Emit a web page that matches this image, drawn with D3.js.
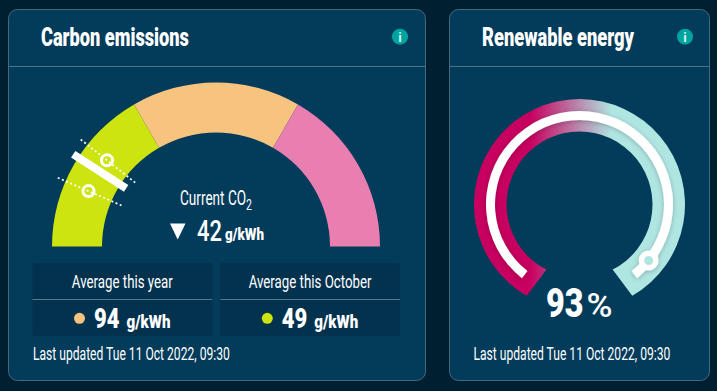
<!DOCTYPE html>
<html>
<head>
<meta charset="utf-8">
<script src="https://cdn.jsdelivr.net/npm/d3@7"></script>
<style>
  html, body { margin: 0; padding: 0; background: #001f30; overflow: hidden; }
  svg { display: block; }
  text { font-family: "Roboto", sans-serif; fill: #fff; }
</style>
</head>
<body>
<div id="chart"></div>
<script>
// Carbon gauge values
const bandStops = [0, 76.7, 153.3, 230];
const bandColors = ['#cde410', '#f7c480', '#e97fb1'];
const currentCo2 = 42;
const markerValues = [49, 30];

// Average boxes
const averageLabels = ['Average this year', 'Average this October'];
const averageValues = [94, 49];
const averageColors = ['#f7c480', '#cde410'];

// Renewable gauge
const renewablePercent = 93;
const updatedText = 'Last updated Tue 11 Oct 2022, 09:30';

const width = 717;
const height = 391;

const svg = d3.select('#chart').append('svg')
  .attr('width', width)
  .attr('height', height);

const defs = svg.append('defs');

const grad = defs.append('linearGradient')
  .attr('id', 'renewGrad')
  .attr('gradientUnits', 'userSpaceOnUse')
  .attr('x1', 530).attr('x2', 612).attr('y1', 0).attr('y2', 0);
grad.append('stop').attr('offset', 0).attr('stop-color', '#c8005f');
grad.append('stop').attr('offset', 1).attr('stop-color', '#b0e6e2');

const shadow = defs.append('filter').attr('id', 'lineShadow')
  .attr('x', '-20%').attr('y', '-20%').attr('width', '140%').attr('height', '140%');
shadow.append('feDropShadow')
  .attr('dx', 0).attr('dy', 1).attr('stdDeviation', 2.5)
  .attr('flood-color', '#000').attr('flood-opacity', 0.25);

// text helper, no condensed font installed so squeeze to the measured width
function label(parent, str, x, y, size, len, weight) {
  const t = parent.append('text')
    .attr('font-size', size)
    .attr('font-weight', weight || 400)
    .text(str);
  return fit(t, x, y, len);
}

function fit(t, x, y, len) {
  const natural = t.node().getComputedTextLength();
  const sx = len ? len / natural : 1;
  t.attr('transform', `translate(${x},${y}) scale(${sx},1)`);
  return t;
}

function panel(x, w, title, titleX, titleLen, infoX) {
  const g = svg.append('g');
  g.append('rect')
    .attr('x', x + 0.5).attr('y', 9.5)
    .attr('width', w).attr('height', 371)
    .attr('rx', 9)
    .attr('fill', '#033b5a')
    .attr('stroke', '#43687f');
  g.append('line')
    .attr('x1', x + 1).attr('x2', x + w)
    .attr('y1', 66.5).attr('y2', 66.5)
    .attr('stroke', '#4b7389');
  label(g, title, titleX, 46, 25, titleLen, 900);
  g.append('circle')
    .attr('cx', infoX).attr('cy', 36.7).attr('r', 8)
    .attr('fill', '#00a49f');
  g.append('text')
    .attr('x', infoX).attr('y', 41.5)
    .attr('font-size', 13).attr('font-weight', 700)
    .attr('text-anchor', 'middle')
    .style('fill', '#d8f3f1')
    .text('i');
}

panel(8, 417, 'Carbon emissions', 41, 148, 400);
panel(449, 260, 'Renewable energy', 482, 152, 685);

// ---- Carbon gauge ----
const carbonX = 216;
const carbonY = 246.5;
const carbonOuter = 164;
const carbonInner = 114;

const carbonAngle = d3.scaleLinear()
  .domain([bandStops[0], bandStops[bandStops.length - 1]])
  .range([-Math.PI / 2, Math.PI / 2]);

const carbon = svg.append('g').attr('transform', `translate(${carbonX},${carbonY})`);

const bandArc = d3.arc().innerRadius(carbonInner).outerRadius(carbonOuter);

carbon.selectAll('path.band')
  .data(bandColors)
  .enter()
  .append('path')
  .attr('class', 'band')
  .attr('fill', d => d)
  .attr('d', (d, i) => bandArc({
    startAngle: carbonAngle(bandStops[i]),
    endAngle: carbonAngle(bandStops[i + 1])
  }));

// dotted marker lines with the ring on them
const markers = carbon.selectAll('g.marker')
  .data(markerValues)
  .enter()
  .append('g')
  .attr('class', 'marker');

markers.append('line')
  .attr('x1', d => d3.pointRadial(carbonAngle(d), 103)[0])
  .attr('y1', d => d3.pointRadial(carbonAngle(d), 103)[1])
  .attr('x2', d => d3.pointRadial(carbonAngle(d), 174)[0])
  .attr('y2', d => d3.pointRadial(carbonAngle(d), 174)[1])
  .attr('stroke', '#fff')
  .attr('stroke-width', 1.7)
  .attr('stroke-dasharray', '2 2.5');

markers.append('circle')
  .attr('cx', d => d3.pointRadial(carbonAngle(d), 139)[0])
  .attr('cy', d => d3.pointRadial(carbonAngle(d), 139)[1])
  .attr('r', 5.5)
  .attr('fill', 'none')
  .attr('stroke', '#fff')
  .attr('stroke-width', 3);

// current value bar
carbon.append('line')
  .attr('x1', d3.pointRadial(carbonAngle(currentCo2), 107)[0])
  .attr('y1', d3.pointRadial(carbonAngle(currentCo2), 107)[1])
  .attr('x2', d3.pointRadial(carbonAngle(currentCo2), 170)[0])
  .attr('y2', d3.pointRadial(carbonAngle(currentCo2), 170)[1])
  .attr('stroke', '#fff')
  .attr('stroke-width', 8);

const co2Label = svg.append('text').attr('font-size', 19.5).text('Current CO');
co2Label.append('tspan').attr('dy', 4.5).attr('font-size', 15).text('2');
fit(co2Label, 180, 205, 72);

svg.append('path')
  .attr('d', 'M170,223.5 L185.5,223.5 L177.7,239.5 Z')
  .attr('fill', '#fff');

label(svg, currentCo2, 197, 240.5, 30, 25, 500);
label(svg, 'g/kWh', 225, 239.5, 17, 39, 900);

// ---- Average boxes ----
const boxX = d3.scaleBand()
  .domain(averageLabels)
  .range([32.5, 400])
  .paddingInner(0.043);

const boxes = svg.selectAll('g.avg')
  .data(averageLabels)
  .enter()
  .append('g')
  .attr('class', 'avg')
  .attr('transform', d => `translate(${boxX(d)},0)`);

boxes.append('rect')
  .attr('y', 263)
  .attr('width', boxX.bandwidth())
  .attr('height', 73)
  .attr('rx', 2)
  .attr('fill', '#03324f');

boxes.append('line')
  .attr('x2', boxX.bandwidth())
  .attr('y1', 299.5).attr('y2', 299.5)
  .attr('stroke', '#55798d');

const labelLens = [101, 123];
boxes.each(function (d, i) {
  const g = d3.select(this);
  const w = boxX.bandwidth();
  label(g, d, (w - labelLens[i]) / 2, 287.5, 19, labelLens[i]);
  g.append('circle')
    .attr('cx', 47).attr('cy', 318.3).attr('r', 5.5)
    .attr('fill', averageColors[i]);
  label(g, averageValues[i], 61.5, 328.3, 27, 25.5, 900);
  label(g, 'g/kWh', 94, 328.3, 18, 44, 900);
});

label(svg, updatedText, 33, 360, 17.5, 197);

// ---- Renewable gauge ----
const renewX = 579.5;
const renewY = 204.5;
const renewOuter = 105.5;
const renewInner = 73;
const renewMid = 89;

const renewAngle = d3.scaleLinear()
  .domain([0, 100])
  .range([-150, 150].map(d => d * Math.PI / 180));

const deg = d => d * Math.PI / 180;

// the cut ends lean inward, so inner and outer edges stop at different angles
const bandPath = d3.path();
bandPath.arc(renewX, renewY, renewOuter, renewAngle(0) - Math.PI / 2, renewAngle(100) - Math.PI / 2);
bandPath.arc(renewX, renewY, renewInner, deg(153) - Math.PI / 2, deg(-153) - Math.PI / 2, true);
bandPath.closePath();

svg.append('path')
  .attr('d', bandPath.toString())
  .attr('fill', 'url(#renewGrad)');

const renew = svg.append('g')
  .attr('transform', `translate(${renewX},${renewY})`)
  .attr('filter', 'url(#lineShadow)');

renew.append('path')
  .attr('fill', '#fff')
  .attr('d', d3.arc()({
    innerRadius: renewMid - 4.5,
    outerRadius: renewMid + 4.5,
    startAngle: deg(-142),
    endAngle: deg(142)
  }));

const knob = d3.pointRadial(renewAngle(renewablePercent), renewMid);
renew.append('circle')
  .attr('cx', knob[0]).attr('cy', knob[1])
  .attr('r', 7.25)
  .attr('fill', '#b0e6e2')
  .attr('stroke', '#fff')
  .attr('stroke-width', 5.5);

label(svg, renewablePercent, 546, 316.7, 41, 37.5, 900);
label(svg, '%', 586.5, 316.7, 33, 26, 500);
label(svg, updatedText, 473.5, 360, 17.5, 197);
</script>
</body>
</html>
